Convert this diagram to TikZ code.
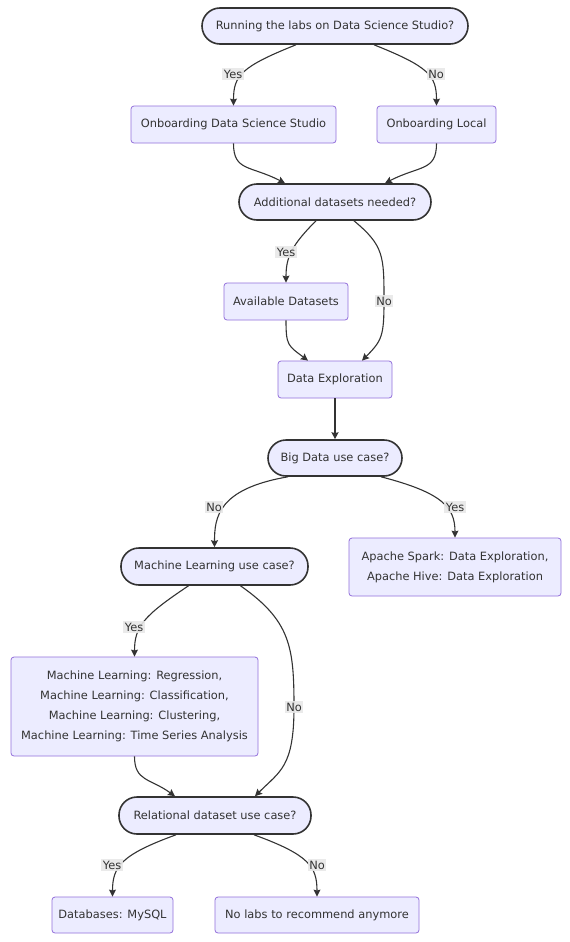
\documentclass[tikz,border=0pt]{standalone}
\usepackage{fontspec}
\setmainfont{DejaVu Sans}
\usetikzlibrary{arrows.meta,calc}
\definecolor{nfill}{HTML}{ECECFF}
\definecolor{nstroke}{HTML}{9370DB}
\definecolor{dark}{HTML}{333333}
\definecolor{lbl}{HTML}{E8E8E8}
\begin{document}
\begin{tikzpicture}[x=1pt,y=-1pt,
  every node/.style={font=\fontsize{11.4}{20}\selectfont, text=dark},
  proc/.style={draw=nstroke, fill=nfill, rounded corners=3pt, line width=0.8pt, inner sep=0pt, align=center},
  dec/.style={draw=dark, fill=nfill, rounded corners=18pt, line width=1.6pt, inner sep=0pt},
  edge/.style={draw=dark, line width=1.1pt, -{Stealth[length=7pt,width=7pt,inset=1pt]}},
  lab/.style={fill=lbl, fill opacity=0.9, text opacity=1, inner sep=1.5pt}
]
\fill[white] (0,0) rectangle (570,942);
\useasboundingbox (0,0) rectangle (570,942);

% nodes
\node[dec, minimum width=266pt, minimum height=36pt] (run) at (335,26) {Running the labs on Data Science Studio?};
\node[proc, minimum width=205pt, minimum height=37pt] (ods) at (233.5,124.5) {Onboarding Data Science Studio};
\node[proc, minimum width=119pt, minimum height=37pt] (ol) at (436.5,124.5) {Onboarding Local};
\node[dec, minimum width=192pt, minimum height=36pt] (add) at (335,202) {Additional datasets needed?};
\node[proc, minimum width=124pt, minimum height=37pt] (avail) at (286,301.5) {Available Datasets};
\node[proc, minimum width=114pt, minimum height=37pt] (dexp) at (335,379.5) {Data Exploration};
\node[dec, minimum width=134pt, minimum height=36pt] (big) at (335,458) {Big Data use case?};
\node[dec, minimum width=187pt, minimum height=37pt] (ml) at (214.5,566.5) {Machine Learning use case?};
\node[proc, minimum width=212pt, minimum height=58pt] (spark) at (455,567) {Apache Spark: Data Exploration,\\ Apache Hive: Data Exploration};
\node[proc, minimum width=247pt, minimum height=99pt] (mlbox) at (134.5,706.5) {Machine Learning: Regression,\\Machine Learning: Classification,\\Machine Learning: Clustering,\\Machine Learning: Time Series Analysis};
\node[dec, minimum width=192pt, minimum height=37pt] (rel) at (215,815.5) {Relational dataset use case?};
\node[proc, minimum width=121pt, minimum height=36pt] (db) at (112.5,915) {Databases: MySQL};
\node[proc, minimum width=204pt, minimum height=36pt] (nolabs) at (317,915) {No labs to recommend anymore};

% pass-through points for long edges
\coordinate (noAdd) at (384,301);
\coordinate (noML) at (294,707);

% edges
\draw[edge] ([xshift=-39pt]run.south) .. controls +(-55,22) and +(0,-30) .. (ods.north);
\draw[edge] ([xshift=39pt]run.south) .. controls +(55,22) and +(0,-30) .. (ol.north);
\draw[edge] (ods.south) .. controls +(0,28) and +(-35,-18) .. ([xshift=-50pt]add.north);
\draw[edge] (ol.south) .. controls +(0,28) and +(35,-18) .. ([xshift=50pt]add.north);
\draw[edge] ([xshift=-19pt]add.south) .. controls +(-25,25) and +(0,-25) .. (avail.north);
\draw[edge] ([xshift=19pt]add.south) .. controls +(30,25) and +(0,-45) .. (noAdd) .. controls +(0,35) and +(20,-20) .. ([xshift=27pt]dexp.north);
\draw[edge] (avail.south) .. controls +(0,25) and +(-20,-15) .. ([xshift=-27pt]dexp.north);
\draw[edge] (dexp.south) -- (big.north);
\draw[edge] ([xshift=-47pt]big.south) .. controls +(-70,12) and +(0,-30) .. (ml.north);
\draw[edge] ([xshift=46pt]big.south) .. controls +(62,16) and +(0,-30) .. (spark.north);
\draw[edge] ([xshift=-26pt]ml.south) .. controls +(-45,30) and +(0,-30) .. (mlbox.north);
\draw[edge] ([xshift=26pt]ml.south) .. controls +(50,35) and +(0,-60) .. (noML) .. controls +(0,60) and +(25,-25) .. ([xshift=40pt]rel.north);
\draw[edge] (mlbox.south) .. controls +(0,25) and +(-25,-18) .. ([xshift=-40pt]rel.north);
\draw[edge] ([xshift=-39pt]rel.south) .. controls +(-55,20) and +(0,-30) .. (db.north);
\draw[edge] ([xshift=39pt]rel.south) .. controls +(55,20) and +(0,-30) .. (nolabs.north);

% edge labels
\node[lab] (l1) at (233,74) {Yes};
\node[lab] (l2) at (436,74) {No};
\node[lab] (l3) at (286,252) {Yes};
\node[lab] (l4) at (384,301) {No};
\node[lab] (l5) at (214,507) {No};
\node[lab] (l6) at (455,507) {Yes};
\node[lab] (l7) at (134,627) {Yes};
\node[lab] (l8) at (294,707) {No};
\node[lab] (l9) at (112,865) {Yes};
\node[lab] (l10) at (317,865) {No};
\end{tikzpicture}
\end{document}
